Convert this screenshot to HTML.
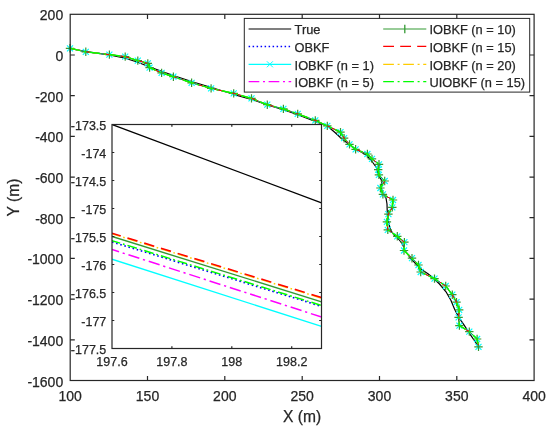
<!DOCTYPE html>
<html><head><meta charset="utf-8"><title>Trajectory plot</title>
<style>html,body{margin:0;padding:0;background:#fff}svg{display:block}text{font-family:"Liberation Sans",Arial,Helvetica,sans-serif;fill:#262626;stroke:#262626;stroke-width:0.25px}</style>
</head><body>
<svg width="550" height="432" viewBox="0 0 550 432">
<rect width="550" height="432" fill="#fff"/>
<g fill="none" stroke-linejoin="round">
<polyline points="70.0,48.3 85.8,51.6 109.4,54.8 125.2,58.2 137.8,62.2 147.8,66.2 161.6,71.3 173.4,75.5 191.6,81.5 210.6,87.3 233.4,94.3 251.5,99.3 267.3,104.9 283.4,109.6 297.7,114.6 315.3,121.5 327.3,126.0 335.0,132.5 342.0,139.0 349.3,144.5 354.4,148.2 362.0,152.5 367.4,156.0 372.0,161.5 376.8,168.0 378.3,174.9 382.0,181.0 381.4,188.0 383.0,194.4 386.0,198.0 387.0,204.0 387.2,210.0 387.6,216.0 388.5,222.0 390.5,229.8 394.0,235.0 398.5,239.0 402.5,244.0 405.0,250.5 410.5,258.2 416.0,264.0 421.5,269.5 428.0,273.8 434.5,279.2 439.5,284.0 446.0,291.8 451.0,300.5 454.7,309.5 458.8,317.3 463.8,324.7 470.3,334.6 475.4,342.0 478.5,346.8" stroke="#000" stroke-width="1.2"/>
<polyline points="70.0,48.3 85.8,51.8 109.4,54.6 125.2,56.6 137.8,60.6 147.8,63.4 149.6,67.6 161.6,72.9 173.4,76.7 191.6,82.8 211.1,88.4 233.7,93.4 251.5,98.4 267.3,104.7 283.4,108.9 297.7,113.9 315.3,120.4 327.3,125.9 340.5,132.1 344.1,138.2 349.5,144.4 355.6,149.3 367.4,154.0 372.0,158.9 379.0,164.3 378.2,169.6 378.9,174.9 384.7,181.0 380.4,188.0 382.9,194.4 393.0,200.0 392.3,207.3 388.4,214.2 386.9,221.9 387.8,229.8 397.3,236.3 404.4,242.2 404.0,250.5 412.0,258.2 418.5,265.0 420.7,272.0 434.5,278.6 445.7,286.0 452.3,294.7 456.5,302.1 459.2,309.8 458.6,317.4 459.4,325.6 469.3,331.6 477.1,339.0 478.5,346.8" stroke="#00f" stroke-width="1" stroke-dasharray="1.3 2.7"/>
<polyline points="70.0,48.3 85.8,51.8 109.4,54.6 125.2,56.6 137.8,60.6 147.8,63.4 149.6,67.6 161.6,72.9 173.4,76.7 191.6,82.8 211.1,88.4 233.7,93.4 251.5,98.4 267.3,104.7 283.4,108.9 297.7,113.9 315.3,120.4 327.3,125.9 340.5,132.1 344.1,138.2 349.5,144.4 355.6,149.3 367.4,154.0 372.0,158.9 379.0,164.3 378.2,169.6 378.9,174.9 384.7,181.0 380.4,188.0 382.9,194.4 393.0,200.0 392.3,207.3 388.4,214.2 386.9,221.9 387.8,229.8 397.3,236.3 404.4,242.2 404.0,250.5 412.0,258.2 418.5,265.0 420.7,272.0 434.5,278.6 445.7,286.0 452.3,294.7 456.5,302.1 459.2,309.8 458.6,317.4 459.4,325.6 469.3,331.6 477.1,339.0 478.5,346.8" stroke="#0ff" stroke-width="1"/>
<path d="M67.0 45.3L73.0 51.3M67.0 51.3L73.0 45.3M82.8 48.8L88.8 54.8M82.8 54.8L88.8 48.8M106.4 51.6L112.4 57.6M106.4 57.6L112.4 51.6M122.2 53.6L128.2 59.6M122.2 59.6L128.2 53.6M134.8 57.6L140.8 63.6M134.8 63.6L140.8 57.6M144.8 60.4L150.8 66.4M144.8 66.4L150.8 60.4M146.6 64.6L152.6 70.6M146.6 70.6L152.6 64.6M158.6 69.9L164.6 75.9M158.6 75.9L164.6 69.9M170.4 73.7L176.4 79.7M170.4 79.7L176.4 73.7M188.6 79.8L194.6 85.8M188.6 85.8L194.6 79.8M208.1 85.4L214.1 91.4M208.1 91.4L214.1 85.4M230.7 90.4L236.7 96.4M230.7 96.4L236.7 90.4M248.5 95.4L254.5 101.4M248.5 101.4L254.5 95.4M264.3 101.7L270.3 107.7M264.3 107.7L270.3 101.7M280.4 105.9L286.4 111.9M280.4 111.9L286.4 105.9M294.7 110.9L300.7 116.9M294.7 116.9L300.7 110.9M312.3 117.4L318.3 123.4M312.3 123.4L318.3 117.4M324.3 122.9L330.3 128.9M324.3 128.9L330.3 122.9M337.5 129.1L343.5 135.1M337.5 135.1L343.5 129.1M341.1 135.2L347.1 141.2M341.1 141.2L347.1 135.2M346.5 141.4L352.5 147.4M346.5 147.4L352.5 141.4M352.6 146.3L358.6 152.3M352.6 152.3L358.6 146.3M364.4 151.0L370.4 157.0M364.4 157.0L370.4 151.0M369.0 155.9L375.0 161.9M369.0 161.9L375.0 155.9M376.0 161.3L382.0 167.3M376.0 167.3L382.0 161.3M375.2 166.6L381.2 172.6M375.2 172.6L381.2 166.6M375.9 171.9L381.9 177.9M375.9 177.9L381.9 171.9M381.7 178.0L387.7 184.0M381.7 184.0L387.7 178.0M377.4 185.0L383.4 191.0M377.4 191.0L383.4 185.0M379.9 191.4L385.9 197.4M379.9 197.4L385.9 191.4M390.0 197.0L396.0 203.0M390.0 203.0L396.0 197.0M389.3 204.3L395.3 210.3M389.3 210.3L395.3 204.3M385.4 211.2L391.4 217.2M385.4 217.2L391.4 211.2M383.9 218.9L389.9 224.9M383.9 224.9L389.9 218.9M384.8 226.8L390.8 232.8M384.8 232.8L390.8 226.8M394.3 233.3L400.3 239.3M394.3 239.3L400.3 233.3M401.4 239.2L407.4 245.2M401.4 245.2L407.4 239.2M401.0 247.5L407.0 253.5M401.0 253.5L407.0 247.5M409.0 255.2L415.0 261.2M409.0 261.2L415.0 255.2M415.5 262.0L421.5 268.0M415.5 268.0L421.5 262.0M417.7 269.0L423.7 275.0M417.7 275.0L423.7 269.0M431.5 275.6L437.5 281.6M431.5 281.6L437.5 275.6M442.7 283.0L448.7 289.0M442.7 289.0L448.7 283.0M449.3 291.7L455.3 297.7M449.3 297.7L455.3 291.7M453.5 299.1L459.5 305.1M453.5 305.1L459.5 299.1M456.2 306.8L462.2 312.8M456.2 312.8L462.2 306.8M455.6 314.4L461.6 320.4M455.6 320.4L461.6 314.4M456.4 322.6L462.4 328.6M456.4 328.6L462.4 322.6M466.3 328.6L472.3 334.6M466.3 334.6L472.3 328.6M474.1 336.0L480.1 342.0M474.1 342.0L480.1 336.0M475.5 343.8L481.5 349.8M475.5 349.8L481.5 343.8" stroke="#0ff" stroke-width="1.2"/>
<polyline points="70.0,48.3 85.8,51.8 109.4,54.6 125.2,56.6 137.8,60.6 147.8,63.4 149.6,67.6 161.6,72.9 173.4,76.7 191.6,82.8 211.1,88.4 233.7,93.4 251.5,98.4 267.3,104.7 283.4,108.9 297.7,113.9 315.3,120.4 327.3,125.9 340.5,132.1 344.1,138.2 349.5,144.4 355.6,149.3 367.4,154.0 372.0,158.9 379.0,164.3 378.2,169.6 378.9,174.9 384.7,181.0 380.4,188.0 382.9,194.4 393.0,200.0 392.3,207.3 388.4,214.2 386.9,221.9 387.8,229.8 397.3,236.3 404.4,242.2 404.0,250.5 412.0,258.2 418.5,265.0 420.7,272.0 434.5,278.6 445.7,286.0 452.3,294.7 456.5,302.1 459.2,309.8 458.6,317.4 459.4,325.6 469.3,331.6 477.1,339.0 478.5,346.8" stroke="#f0f" stroke-width="1" stroke-dasharray="10.7 3.7 2 3.6"/>
<polyline points="70.0,48.3 85.8,51.8 109.4,54.6 125.2,56.6 137.8,60.6 147.8,63.4 149.6,67.6 161.6,72.9 173.4,76.7 191.6,82.8 211.1,88.4 233.7,93.4 251.5,98.4 267.3,104.7 283.4,108.9 297.7,113.9 315.3,120.4 327.3,125.9 340.5,132.1 344.1,138.2 349.5,144.4 355.6,149.3 367.4,154.0 372.0,158.9 379.0,164.3 378.2,169.6 378.9,174.9 384.7,181.0 380.4,188.0 382.9,194.4 393.0,200.0 392.3,207.3 388.4,214.2 386.9,221.9 387.8,229.8 397.3,236.3 404.4,242.2 404.0,250.5 412.0,258.2 418.5,265.0 420.7,272.0 434.5,278.6 445.7,286.0 452.3,294.7 456.5,302.1 459.2,309.8 458.6,317.4 459.4,325.6 469.3,331.6 477.1,339.0 478.5,346.8" stroke="#339933" stroke-width="1"/>
<path d="M65.8 48.3H74.2M70.0 44.1V52.5M81.6 51.8H90.0M85.8 47.6V56.0M105.2 54.6H113.6M109.4 50.4V58.8M121.0 56.6H129.4M125.2 52.4V60.8M133.6 60.6H142.0M137.8 56.4V64.8M143.6 63.4H152.0M147.8 59.2V67.6M145.4 67.6H153.8M149.6 63.4V71.8M157.4 72.9H165.8M161.6 68.7V77.1M169.2 76.7H177.6M173.4 72.5V80.9M187.4 82.8H195.8M191.6 78.6V87.0M206.9 88.4H215.3M211.1 84.2V92.6M229.5 93.4H237.9M233.7 89.2V97.6M247.3 98.4H255.7M251.5 94.2V102.6M263.1 104.7H271.5M267.3 100.5V108.9M279.2 108.9H287.6M283.4 104.7V113.1M293.5 113.9H301.9M297.7 109.7V118.1M311.1 120.4H319.5M315.3 116.2V124.6M323.1 125.9H331.5M327.3 121.7V130.1M336.3 132.1H344.7M340.5 127.9V136.3M339.9 138.2H348.3M344.1 134.0V142.4M345.3 144.4H353.7M349.5 140.2V148.6M351.4 149.3H359.8M355.6 145.1V153.5M363.2 154.0H371.6M367.4 149.8V158.2M367.8 158.9H376.2M372.0 154.7V163.1M374.8 164.3H383.2M379.0 160.1V168.5M374.0 169.6H382.4M378.2 165.4V173.8M374.7 174.9H383.1M378.9 170.7V179.1M380.5 181.0H388.9M384.7 176.8V185.2M376.2 188.0H384.6M380.4 183.8V192.2M378.7 194.4H387.1M382.9 190.2V198.6M388.8 200.0H397.2M393.0 195.8V204.2M388.1 207.3H396.5M392.3 203.1V211.5M384.2 214.2H392.6M388.4 210.0V218.4M382.7 221.9H391.1M386.9 217.7V226.1M383.6 229.8H392.0M387.8 225.6V234.0M393.1 236.3H401.5M397.3 232.1V240.5M400.2 242.2H408.6M404.4 238.0V246.4M399.8 250.5H408.2M404.0 246.3V254.7M407.8 258.2H416.2M412.0 254.0V262.4M414.3 265.0H422.7M418.5 260.8V269.2M416.5 272.0H424.9M420.7 267.8V276.2M430.3 278.6H438.7M434.5 274.4V282.8M441.5 286.0H449.9M445.7 281.8V290.2M448.1 294.7H456.5M452.3 290.5V298.9M452.3 302.1H460.7M456.5 297.9V306.3M455.0 309.8H463.4M459.2 305.6V314.0M454.4 317.4H462.8M458.6 313.2V321.6M455.2 325.6H463.6M459.4 321.4V329.8M465.1 331.6H473.5M469.3 327.4V335.8M472.9 339.0H481.3M477.1 334.8V343.2M474.3 346.8H482.7M478.5 342.6V351.0" stroke="#339933" stroke-width="1.2"/>
<polyline points="70.0,48.3 85.8,51.8 109.4,54.6 125.2,56.6 137.8,60.6 147.8,63.4 149.6,67.6 161.6,72.9 173.4,76.7 191.6,82.8 211.1,88.4 233.7,93.4 251.5,98.4 267.3,104.7 283.4,108.9 297.7,113.9 315.3,120.4 327.3,125.9 340.5,132.1 344.1,138.2 349.5,144.4 355.6,149.3 367.4,154.0 372.0,158.9 379.0,164.3 378.2,169.6 378.9,174.9 384.7,181.0 380.4,188.0 382.9,194.4 393.0,200.0 392.3,207.3 388.4,214.2 386.9,221.9 387.8,229.8 397.3,236.3 404.4,242.2 404.0,250.5 412.0,258.2 418.5,265.0 420.7,272.0 434.5,278.6 445.7,286.0 452.3,294.7 456.5,302.1 459.2,309.8 458.6,317.4 459.4,325.6 469.3,331.6 477.1,339.0 478.5,346.8" stroke="#f00" stroke-width="1" stroke-dasharray="10.8 6.2"/>
<polyline points="70.0,48.3 85.8,51.8 109.4,54.6 125.2,56.6 137.8,60.6 147.8,63.4 149.6,67.6 161.6,72.9 173.4,76.7 191.6,82.8 211.1,88.4 233.7,93.4 251.5,98.4 267.3,104.7 283.4,108.9 297.7,113.9 315.3,120.4 327.3,125.9 340.5,132.1 344.1,138.2 349.5,144.4 355.6,149.3 367.4,154.0 372.0,158.9 379.0,164.3 378.2,169.6 378.9,174.9 384.7,181.0 380.4,188.0 382.9,194.4 393.0,200.0 392.3,207.3 388.4,214.2 386.9,221.9 387.8,229.8 397.3,236.3 404.4,242.2 404.0,250.5 412.0,258.2 418.5,265.0 420.7,272.0 434.5,278.6 445.7,286.0 452.3,294.7 456.5,302.1 459.2,309.8 458.6,317.4 459.4,325.6 469.3,331.6 477.1,339.0 478.5,346.8" stroke="#fc0" stroke-width="1" stroke-dasharray="10.7 3.7 2 3.6"/>
<polyline points="70.0,48.3 85.8,51.8 109.4,54.6 125.2,56.6 137.8,60.6 147.8,63.4 149.6,67.6 161.6,72.9 173.4,76.7 191.6,82.8 211.1,88.4 233.7,93.4 251.5,98.4 267.3,104.7 283.4,108.9 297.7,113.9 315.3,120.4 327.3,125.9 340.5,132.1 344.1,138.2 349.5,144.4 355.6,149.3 367.4,154.0 372.0,158.9 379.0,164.3 378.2,169.6 378.9,174.9 384.7,181.0 380.4,188.0 382.9,194.4 393.0,200.0 392.3,207.3 388.4,214.2 386.9,221.9 387.8,229.8 397.3,236.3 404.4,242.2 404.0,250.5 412.0,258.2 418.5,265.0 420.7,272.0 434.5,278.6 445.7,286.0 452.3,294.7 456.5,302.1 459.2,309.8 458.6,317.4 459.4,325.6 469.3,331.6 477.1,339.0 478.5,346.8" stroke="#0f0" stroke-width="1.5" stroke-dasharray="10.7 3.7 2 3.6"/>
</g>
<g stroke="#262626" stroke-width="1.2" fill="none">
<rect x="70.2" y="14.3" width="463.9" height="366.2"/>
<path d="M147.5 380.5V375.9M147.5 14.3V18.9M224.8 380.5V375.9M224.8 14.3V18.9M302.2 380.5V375.9M302.2 14.3V18.9M379.5 380.5V375.9M379.5 14.3V18.9M456.8 380.5V375.9M456.8 14.3V18.9M70.2 339.8H74.8M534.1 339.8H529.5M70.2 299.1H74.8M534.1 299.1H529.5M70.2 258.4H74.8M534.1 258.4H529.5M70.2 217.7H74.8M534.1 217.7H529.5M70.2 177.1H74.8M534.1 177.1H529.5M70.2 136.4H74.8M534.1 136.4H529.5M70.2 95.7H74.8M534.1 95.7H529.5M70.2 55.0H74.8M534.1 55.0H529.5"/>
</g>
<g font-size="14.0">
<text x="70.2" y="400.9" text-anchor="middle">100</text>
<text x="147.5" y="400.9" text-anchor="middle">150</text>
<text x="224.8" y="400.9" text-anchor="middle">200</text>
<text x="302.2" y="400.9" text-anchor="middle">250</text>
<text x="379.5" y="400.9" text-anchor="middle">300</text>
<text x="456.8" y="400.9" text-anchor="middle">350</text>
<text x="534.1" y="400.9" text-anchor="middle">400</text>
<text x="63.2" y="386.5" text-anchor="end">-1600</text>
<text x="63.2" y="345.8" text-anchor="end">-1400</text>
<text x="63.2" y="305.1" text-anchor="end">-1200</text>
<text x="63.2" y="264.4" text-anchor="end">-1000</text>
<text x="63.2" y="223.7" text-anchor="end">-800</text>
<text x="63.2" y="183.1" text-anchor="end">-600</text>
<text x="63.2" y="142.4" text-anchor="end">-400</text>
<text x="63.2" y="101.7" text-anchor="end">-200</text>
<text x="63.2" y="61.0" text-anchor="end">0</text>
<text x="63.2" y="20.3" text-anchor="end">200</text>
</g>
<text x="302.1" y="422" font-size="15.6" text-anchor="middle">X (m)</text>
<text transform="translate(18.6 197.6) rotate(-90)" font-size="15.6" text-anchor="middle">Y (m)</text>
<rect x="112.0" y="124.5" width="209.5" height="224.0" fill="#fff" stroke="none"/>
<clipPath id="ic"><rect x="112.0" y="124.5" width="209.5" height="224.0"/></clipPath>
<g fill="none" clip-path="url(#ic)">
<line x1="112.0" y1="124.5" x2="321.5" y2="202.8" stroke="#000" stroke-width="1.3"/>
<line x1="112.0" y1="241.9" x2="321.5" y2="306.4" stroke="#00f" stroke-width="1.6" stroke-dasharray="1.6 2.7" stroke-dashoffset="0"/>
<line x1="112.0" y1="259.2" x2="321.5" y2="326.4" stroke="#0ff" stroke-width="1.3"/>
<line x1="112.0" y1="249.5" x2="321.5" y2="317.0" stroke="#f0f" stroke-width="1.5" stroke-dasharray="11.4 3.8 2.2 3.9" stroke-dashoffset="4"/>
<line x1="112.0" y1="236.5" x2="321.5" y2="301.8" stroke="#339933" stroke-width="1.4"/>
<line x1="112.0" y1="233.8" x2="321.5" y2="298.1" stroke="#fc0" stroke-width="1.5" stroke-dasharray="10 3 1.6 2.9" stroke-dashoffset="1.3"/>
<line x1="112.0" y1="233.2" x2="321.5" y2="297.5" stroke="#f00" stroke-width="1.5" stroke-dasharray="10.5 7" stroke-dashoffset="1.3"/>
<line x1="112.0" y1="240.6" x2="321.5" y2="305.4" stroke="#0f0" stroke-width="1.5" stroke-dasharray="9.8 2.9 1.8 3" stroke-dashoffset="1.3"/>
</g>
<g stroke="#262626" stroke-width="1.2" fill="none">
<rect x="112.0" y="124.5" width="209.5" height="224.0"/>
<path d="M171.9 348.5V346.2M171.9 124.5V126.8M231.8 348.5V346.2M231.8 124.5V126.8M291.7 348.5V346.2M291.7 124.5V126.8M112.0 152.5H114.3M321.5 152.5H319.2M112.0 180.5H114.3M321.5 180.5H319.2M112.0 208.5H114.3M321.5 208.5H319.2M112.0 236.5H114.3M321.5 236.5H319.2M112.0 264.5H114.3M321.5 264.5H319.2M112.0 292.5H114.3M321.5 292.5H319.2M112.0 320.5H114.3M321.5 320.5H319.2"/>
</g>
<g font-size="12.5">
<text x="112.0" y="366.3" text-anchor="middle">197.6</text>
<text x="171.9" y="366.3" text-anchor="middle">197.8</text>
<text x="231.8" y="366.3" text-anchor="middle">198</text>
<text x="291.7" y="366.3" text-anchor="middle">198.2</text>
<text x="106.3" y="130.0" text-anchor="end">-173.5</text>
<text x="106.3" y="158.0" text-anchor="end">-174</text>
<text x="106.3" y="186.0" text-anchor="end">-174.5</text>
<text x="106.3" y="214.0" text-anchor="end">-175</text>
<text x="106.3" y="242.0" text-anchor="end">-175.5</text>
<text x="106.3" y="270.0" text-anchor="end">-176</text>
<text x="106.3" y="298.0" text-anchor="end">-176.5</text>
<text x="106.3" y="326.0" text-anchor="end">-177</text>
<text x="106.3" y="354.0" text-anchor="end">-177.5</text>
</g>
<rect x="244.3" y="18.4" width="285.4" height="73.7" fill="#fff" stroke="#262626" stroke-width="1"/>
<line x1="248.6" y1="29.0" x2="291.2" y2="29.0" stroke="#000" stroke-width="1.2"/>
<line x1="248.6" y1="46.4" x2="291.2" y2="46.4" stroke="#00f" stroke-width="1.5" stroke-dasharray="1.5 2.5"/>
<line x1="248.6" y1="64.3" x2="291.2" y2="64.3" stroke="#0ff" stroke-width="1.2"/>
<path d="M266.9 61.3L272.9 67.3M266.9 67.3L272.9 61.3" stroke="#0ff" fill="none"/>
<line x1="248.6" y1="81.6" x2="291.2" y2="81.6" stroke="#f0f" stroke-width="1.2" stroke-dasharray="10.7 3.7 2 3.6"/>
<line x1="383.2" y1="29.0" x2="426.3" y2="29.0" stroke="#339933" stroke-width="1.2"/>
<path d="M404.8 24.8V33.2" stroke="#339933" stroke-width="1.3" fill="none"/>
<line x1="383.2" y1="46.4" x2="426.3" y2="46.4" stroke="#f00" stroke-width="1.2" stroke-dasharray="10.8 6.2"/>
<line x1="383.2" y1="64.3" x2="426.3" y2="64.3" stroke="#fc0" stroke-width="1.2" stroke-dasharray="10.7 3.7 2 3.6"/>
<line x1="383.2" y1="81.6" x2="426.3" y2="81.6" stroke="#0f0" stroke-width="1.2" stroke-dasharray="10.7 3.7 2 3.6"/>
<g font-size="12.8" fill="#000">
<text x="294.6" y="34.4" fill="#000">True</text>
<text x="294.6" y="51.8" fill="#000">OBKF</text>
<text x="294.6" y="69.7" fill="#000">IOBKF (n = 1)</text>
<text x="294.6" y="87.0" fill="#000">IOBKF (n = 5)</text>
<text x="429.4" y="34.4" fill="#000">IOBKF (n = 10)</text>
<text x="429.4" y="51.8" fill="#000">IOBKF (n = 15)</text>
<text x="429.4" y="69.7" fill="#000">IOBKF (n = 20)</text>
<text x="429.4" y="87.0" fill="#000">UIOBKF (n = 15)</text>
</g>
</svg></body></html>
